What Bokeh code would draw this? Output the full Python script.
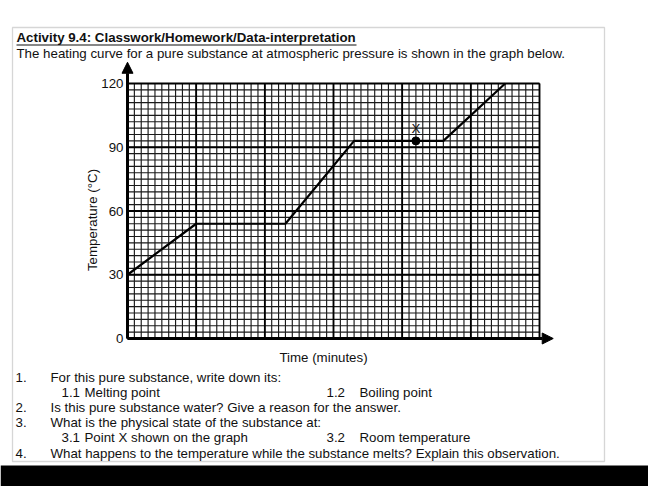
from bokeh.plotting import figure
from bokeh.models import Range1d, Label, Arrow, NormalHead, BoxAnnotation
from bokeh.embed import file_html
from bokeh.resources import INLINE

# ---- data ----
time_min = [0, 10, 23, 33, 46, 55]
temp_c = [30, 54, 54, 93, 93, 120]
point_x_time = [42]
point_x_temp = [93]
y_ticks = [0, 30, 60, 90, 120]
y_tick_labels = ["0", "30", "60", "90", "120"]
y_minor = list(range(0, 121, 3))
x_major = [0, 10, 20, 30, 40, 50, 60]
x_minor = list(range(0, 61))

header = "Activity 9.4: Classwork/Homework/Data-interpretation"
intro = "The heating curve for a pure substance at atmospheric pressure is shown in the graph below."
questions = [
    ("1.", "For this pure substance, write down its:"),
    ("", ""),
    ("2.", "Is this pure substance water? Give a reason for the answer."),
    ("3.", "What is the physical state of the substance at:"),
    ("", ""),
    ("4.", "What happens to the temperature while the substance melts? Explain this observation."),
]
subs = {1: [("1.1", "Melting point"), ("1.2", "Boiling point")],
        4: [("3.1", "Point X shown on the graph"), ("3.2", "Room temperature")]}

FONT = "Liberation Sans"
FS = "13.3px"
INK = "#111111"

W, H = 648, 486
# chart area (grid) position in page pixels
REF_L, REF_R, REF_T, REF_B = 127, 539, 83, 338
XMAX, YMAX = 60, 120


def dx(px):
    return (px - REF_L) * XMAX / (REF_R - REF_L)


def dy(py):
    return (REF_B - py) * YMAX / (REF_B - REF_T)


p = figure(width=W, height=H, output_backend="svg", toolbar_location=None,
           x_range=Range1d(dx(0), dx(W)), y_range=Range1d(dy(H), dy(0)),
           x_axis_location=None, y_axis_location=None,
           min_border=0)
p.title.visible = False
p.grid.visible = False
p.outline_line_color = None
p.background_fill_color = "white"
p.border_fill_color = "white"

# grid (minor then major)
p.segment(x0=x_minor, y0=[0] * len(x_minor), x1=x_minor, y1=[YMAX] * len(x_minor),
          line_color="#1a1a1a", line_width=1.15)
p.segment(x0=[0] * len(y_minor), y0=y_minor, x1=[XMAX] * len(y_minor), y1=y_minor,
          line_color="#1a1a1a", line_width=1.15)
p.segment(x0=x_major, y0=[0] * len(x_major), x1=x_major, y1=[YMAX] * len(x_major),
          line_color="black", line_width=1.8)
p.segment(x0=[0] * len(y_ticks), y0=y_ticks, x1=[XMAX] * len(y_ticks), y1=y_ticks,
          line_color="black", line_width=1.8)

# axis arrows
p.add_layout(Arrow(end=NormalHead(size=11, fill_color="black", line_color="black"),
                   x_start=0, y_start=0, x_end=0, y_end=130, line_width=3, line_color="black"))
p.add_layout(Arrow(end=NormalHead(size=11, fill_color="black", line_color="black"),
                   x_start=0, y_start=0, x_end=62, y_end=0, line_width=3, line_color="black"))

# tick labels
p.text(x=[0] * len(y_ticks), y=y_ticks, text=y_tick_labels, x_offset=-4,
       text_align="right", text_baseline="middle",
       text_font={"value": FONT}, text_font_size={"value": FS}, text_color=INK)

# heating curve
p.line(time_min, temp_c, line_width=2.2, line_color="black")
p.scatter(point_x_time, point_x_temp, size=8, fill_color="black", line_color="black")
p.add_layout(Label(x=point_x_time[0], y=point_x_temp[0], text="X", y_offset=12,
                   text_align="center", text_baseline="middle",
                   text_font=FONT, text_font_size=FS, text_color=INK))

# axis titles
p.add_layout(Label(x=dx(92), y=dy(219.5), text="Temperature (°C)", angle=1.5708,
                   text_align="center", text_baseline="middle",
                   text_font=FONT, text_font_size=FS, text_color=INK))
p.add_layout(Label(x=dx(323), y=dy(357), text="Time (minutes)",
                   text_align="center", text_baseline="middle",
                   text_font=FONT, text_font_size=FS, text_color=INK))

# worksheet frame and dark band
p.add_layout(BoxAnnotation(left=dx(12), right=dx(604), top=dy(27), bottom=dy(461),
                           fill_alpha=0, line_color="#777777", line_width=1.3, level="underlay"))
p.add_layout(BoxAnnotation(left=dx(0), right=dx(W + 10), top=dy(465), bottom=dy(H + 20),
                           fill_color="black", fill_alpha=1, line_color=None))


def txt(x, y, s, bold=False):
    p.add_layout(Label(x=dx(x), y=dy(y), text=s, text_align="left", text_baseline="middle",
                       text_font=FONT, text_font_size=FS, text_color=INK,
                       text_font_style="bold" if bold else "normal"))


txt(16, 37, header, bold=True)
p.add_layout(Arrow(end=None, x_start=dx(16), y_start=dy(44.5), x_end=dx(356), y_end=dy(44.5),
                   line_width=1.2, line_color=INK))
txt(16, 53, intro)

rows_y = [377, 392, 407, 422, 437, 453]
for i, (num, s) in enumerate(questions):
    if num:
        txt(15, rows_y[i], num)
        txt(50, rows_y[i], s)
    if i in subs:
        (n1, s1), (n2, s2) = subs[i]
        txt(61, rows_y[i], n1)
        txt(84, rows_y[i], s1)
        txt(326, rows_y[i], n2)
        txt(359, rows_y[i], s2)

open("out.html", "w").write(file_html(p, INLINE))
